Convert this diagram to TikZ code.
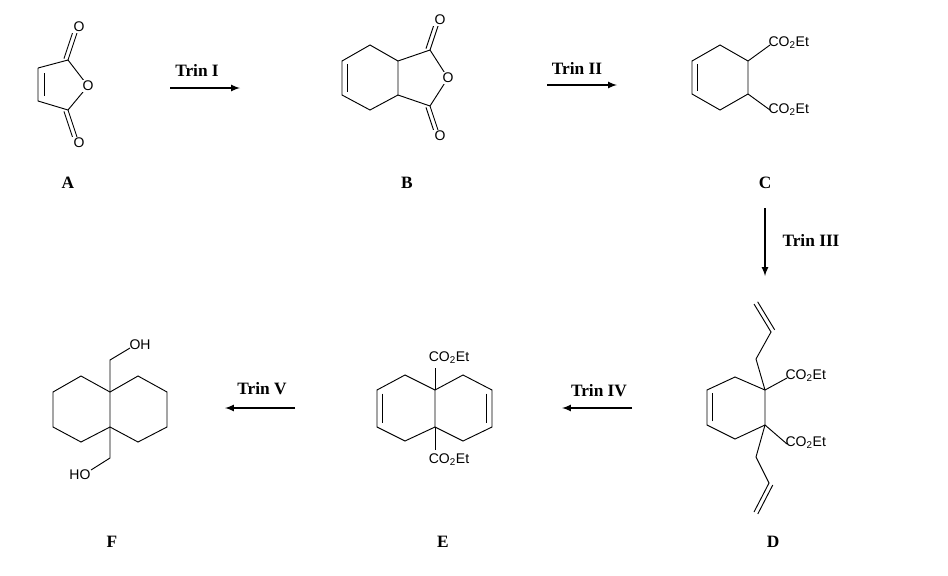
\documentclass[tikz,border=0pt]{standalone}
\usepackage{fontspec}
\setmainfont{Liberation Serif}
\newfontfamily\chemfont{Liberation Sans}
\usetikzlibrary{calc}
\tikzset{
  bond/.style={line width=0.7pt},
  atom/.style={font=\chemfont\fontsize{10.5}{11}\selectfont, inner sep=1pt, fill=white},
  cmpd/.style={font=\bfseries\fontsize{13}{13}\selectfont},
  rxn/.style={font=\bfseries\fontsize{13}{13}\selectfont},
  rarrow/.style={line width=1.3pt,-latex}
}
\newcommand{\dbin}[3]{\draw[bond] ($(#1)!0.2!(#3)$) -- ($(#2)!0.2!(#3)$);}
\newcommand{\dbside}[2]{\draw[bond] ($(#1)!3.2pt!90:(#2)$) -- ($(#2)!3.2pt!-90:(#1)$);}
\begin{document}
\begin{tikzpicture}[x=0.75pt,y=-0.75pt]
\useasboundingbox[fill=white] (0,0) rectangle (948,575);
% ---------- A
\coordinate (a1) at (68,60); \coordinate (aO) at (88,86); \coordinate (a3) at (68,110);
\coordinate (a4) at (38,101); \coordinate (a5) at (38,68);
\coordinate (aOt) at (79,27); \coordinate (aOb) at (79,143);
\draw[bond] (a5)--(a1)--(aO)--(a3)--(a4)--(a5);
\draw[bond] (44,73)--(44,96);
\draw[bond] (a1)--(aOt); \dbside{a1}{aOt}
\draw[bond] (a3)--(aOb); \dbside{aOb}{a3}
\node[atom] at (aO) {O}; \node[atom] at (aOt) {O}; \node[atom] at (aOb) {O};
% ---------- B
\coordinate (b1) at (370,45); \coordinate (b2) at (398,61); \coordinate (b3) at (398,95);
\coordinate (b4) at (370,110); \coordinate (b5) at (342,95); \coordinate (b6) at (342,61);
\coordinate (bc) at (370,78);
\coordinate (bk1) at (430,50); \coordinate (bO) at (448,78); \coordinate (bk2) at (430,106);
\coordinate (bOt) at (440,20); \coordinate (bOb) at (440,136);
\draw[bond] (b1)--(b2)--(b3)--(b4)--(b5)--(b6)--cycle;
\dbin{b5}{b6}{bc}
\draw[bond] (b2)--(bk1)--(bO)--(bk2)--(b3);
\draw[bond] (bk1)--(bOt); \dbside{bk1}{bOt}
\draw[bond] (bk2)--(bOb); \dbside{bOb}{bk2}
\node[atom] at (bO) {O}; \node[atom] at (bOt) {O}; \node[atom] at (bOb) {O};
% ---------- C
\coordinate (c1) at (720,45); \coordinate (c2) at (748,61); \coordinate (c3) at (748,94);
\coordinate (c4) at (720,110); \coordinate (c5) at (692,94); \coordinate (c6) at (692,61);
\coordinate (cc) at (720,78);
\draw[bond] (c1)--(c2)--(c3)--(c4)--(c5)--(c6)--cycle;
\dbin{c5}{c6}{cc}
\draw[bond] (c2)--(770,45); \draw[bond] (c3)--(770,110);
\node[atom,anchor=west,fill=none] at (767,43) {CO\textsubscript{2}Et};
\node[atom,anchor=west,fill=none] at (767,110) {CO\textsubscript{2}Et};
% ---------- D
\coordinate (d1) at (765,390); \coordinate (d2) at (765,425); \coordinate (d3) at (735,439);
\coordinate (d4) at (707,425); \coordinate (d5) at (707,390); \coordinate (d6) at (735,377);
\coordinate (dc) at (736,407);
\draw[bond] (d1)--(d2)--(d3)--(d4)--(d5)--(d6)--cycle;
\dbin{d4}{d5}{dc}
\coordinate (du1) at (756,359); \coordinate (du2) at (771,332); \coordinate (du3) at (754,304);
\coordinate (dl1) at (756,457); \coordinate (dl2) at (769,483); \coordinate (dl3) at (754,512);
\draw[bond] (d1)--(du1)--(du2)--(du3); \dbside{du3}{du2}
\draw[bond] (d2)--(dl1)--(dl2)--(dl3); \dbside{dl2}{dl3}
\draw[bond] (d1)--(787,378); \draw[bond] (d2)--(787,444);
\node[atom,anchor=west,fill=none] at (784,376) {CO\textsubscript{2}Et};
\node[atom,anchor=west,fill=none] at (784,443) {CO\textsubscript{2}Et};
% ---------- E
\coordinate (e1) at (435,390); \coordinate (e2) at (435,427);
\coordinate (el1) at (405,375); \coordinate (el2) at (377,390); \coordinate (el3) at (377,427); \coordinate (el4) at (405,441);
\coordinate (er1) at (463,375); \coordinate (er2) at (492,390); \coordinate (er3) at (492,427); \coordinate (er4) at (463,441);
\coordinate (elc) at (406,408); \coordinate (erc) at (464,408);
\draw[bond] (e1)--(el1)--(el2)--(el3)--(el4)--(e2)--cycle;
\draw[bond] (e1)--(er1)--(er2)--(er3)--(er4)--(e2);
\dbin{el2}{el3}{elc} \dbin{er2}{er3}{erc}
\draw[bond] (e1)--(435,368); \draw[bond] (e2)--(435,450);
\node[atom,fill=none] at (449,358) {CO\textsubscript{2}Et};
\node[atom,fill=none] at (449,460) {CO\textsubscript{2}Et};
% ---------- F
\coordinate (f1) at (110,392); \coordinate (f2) at (110,427);
\coordinate (fl1) at (81,376); \coordinate (fl2) at (53,392); \coordinate (fl3) at (53,427); \coordinate (fl4) at (81,442);
\coordinate (fr1) at (138,376); \coordinate (fr2) at (167,392); \coordinate (fr3) at (167,427); \coordinate (fr4) at (138,442);
\draw[bond] (f1)--(fl1)--(fl2)--(fl3)--(fl4)--(f2)--cycle;
\draw[bond] (f1)--(fr1)--(fr2)--(fr3)--(fr4)--(f2);
\draw[bond] (f1)--(110,360)--(130,348); \draw[bond] (f2)--(110,458)--(91,470);
\node[atom,anchor=west,fill=none] at (128,345) {OH};
\node[atom,anchor=east,fill=none] at (92,475) {HO};
% ---------- arrows
\coordinate (r1s) at (170,88); \coordinate (r1e) at (240,88);
\coordinate (r2s) at (547,85); \coordinate (r2e) at (617,85);
\coordinate (r3s) at (765,208); \coordinate (r3e) at (765,276);
\coordinate (r4s) at (632,408); \coordinate (r4e) at (562,408);
\coordinate (r5s) at (295,408); \coordinate (r5e) at (225,408);
\draw[rarrow] (r1s)--(r1e); \node[rxn] at (197,70) {Trin I};
\draw[rarrow] (r2s)--(r2e); \node[rxn] at (577,68) {Trin II};
\draw[rarrow] (r3s)--(r3e); \node[rxn] at (811,240) {Trin III};
\draw[rarrow] (r4s)--(r4e); \node[rxn] at (599,391) {Trin IV};
\draw[rarrow] (r5s)--(r5e); \node[rxn] at (262,389) {Trin V};
% ---------- labels
\node[cmpd] (A) at (68,183) {A};
\node[cmpd] (B) at (407,183) {B};
\node[cmpd] (C) at (765,183) {C};
\node[cmpd] (D) at (773,542) {D};
\node[cmpd] (E) at (443,542) {E};
\node[cmpd] (F) at (112,542) {F};
\end{tikzpicture}
\end{document}
